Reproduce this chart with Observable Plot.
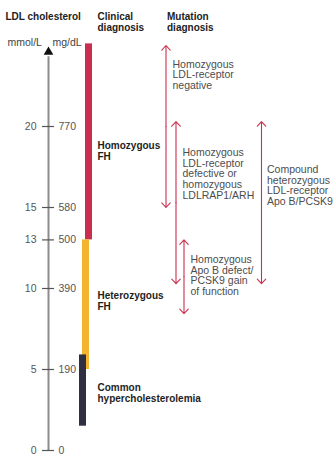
<!DOCTYPE html>
<html><head><meta charset="utf-8">
<script src="https://cdn.jsdelivr.net/npm/d3@7"></script>
<script src="https://cdn.jsdelivr.net/npm/@observablehq/plot@0.6"></script>
<style>
html,body{margin:0;padding:0;background:#fff;}
#chart svg{display:block;}
</style></head><body><div id="chart"></div>
<script>
// ---- data ----
const tickMmol = [0, 5, 10, 13, 15, 20];
const tickMgdl = ["0", "190", "390", "500", "580", "770"];
const axisTop = 24.6;

const clinicalNames = ["Homozygous\nFH", "Heterozygous\nFH", "Common\nhypercholesterolemia"];
const clinicalLow = [13, 5, 1.5];
const clinicalHigh = [25.1, 13, 5.9];

const mutationNames = [
  "Homozygous\nLDL-receptor\nnegative",
  "Homozygous\nLDL-receptor\ndefective or\nhomozygous\nLDLRAP1/ARH",
  "Homozygous\nApo B defect/\nPCSK9 gain\nof function",
  "Compound\nheterozygous\nLDL-receptor\nApo B/PCSK9"
];
const mutationLow = [15, 10.3, 8.45, 10.3];
const mutationHigh = [25, 20.3, 13, 20.3];

const headers = ["LDL cholesterol", "Clinical\ndiagnosis", "Mutation\ndiagnosis"];
const unitLabels = ["mmol/L", "mg/dL"];

// ---- layout (positions / styles) ----
const W = 336, H = 473;
const axisX = 48;
const barX = [88.5, 85.5, 82.5];
const barW = 7;
const clinicalLabelY = [18.46, 9.26, 3.56];
const clinicalLabelX = 97;
const arrowX = [165.5, 175.5, 183.5, 261];
const mutLabelX = [172, 182, 190, 266.5];
const mutLabelY = [23.18, 17.08, 10.79, 16.36];
const headerX = [5, 97, 166.5];
const unitX = [7, 52];
const barColors = ["#c92d50", "#f5b42f", "#302f42"];
const arrowColor = "#c8304f";
const font = "'Liberation Sans', Arial, sans-serif";

const clinical = clinicalNames.map((name, i) => ({name, low: clinicalLow[i], high: clinicalHigh[i], x: barX[i], color: barColors[i], ly: clinicalLabelY[i]}));
const mutation = mutationNames.map((name, i) => ({name, low: mutationLow[i], high: mutationHigh[i], mid: (mutationLow[i] + mutationHigh[i]) / 2, x: arrowX[i], lx: mutLabelX[i], ly: mutLabelY[i]}));
const ticks = tickMmol.map((v, i) => ({v, mg: tickMgdl[i]}));

const chart = Plot.plot({
  width: W,
  height: H,
  marginTop: 45,
  marginBottom: 23,
  marginLeft: 0,
  marginRight: 0,
  style: {fontFamily: font, background: "#fff"},
  x: {domain: [0, W], range: [0, W], axis: null},
  y: {domain: [0, 25], axis: null},
  marks: [
    // headers
    Plot.text(headers, {x: (d, i) => headerX[i], text: d => d, frameAnchor: "top", dy: -33, lineAnchor: "top", textAnchor: "start", fontWeight: "bold", fontSize: 10, fill: "#222", lineHeight: 1.1}),
    Plot.text(unitLabels, {x: (d, i) => unitX[i], text: d => d, frameAnchor: "top", dy: -3, lineAnchor: "middle", textAnchor: "start", fontSize: 10.5, fill: "#444"}),
    // axis
    Plot.ruleX([axisX], {x: d => d, y1: 0, y2: axisTop - 0.3, stroke: "#8c8c8c", strokeWidth: 2}),
    Plot.dot([axisTop], {x: axisX, y: d => d, symbol: "triangle", r: 3.6, fill: "#111", stroke: "none"}),
    Plot.ruleY(ticks, {y: "v", x1: axisX - 6, x2: axisX + 6, stroke: "#555", strokeWidth: 1.2}),
    Plot.text(ticks, {y: "v", x: axisX - 12, text: d => String(d.v), textAnchor: "end", fontSize: 10.5, fill: "#555"}),
    Plot.text(ticks, {y: "v", x: axisX + 10, text: "mg", textAnchor: "start", fontSize: 10.5, fill: "#555"}),
    // clinical bars
    Plot.rect(clinical, {x1: d => d.x - barW / 2, x2: d => d.x + barW / 2, y1: "low", y2: "high", fill: "color"}),
    Plot.text(clinical, {x: clinicalLabelX, y: "ly", text: "name", textAnchor: "start", fontWeight: "bold", fontSize: 10, fill: "#1e1e1e", lineHeight: 1.1}),
    // mutation arrows (double headed)
    Plot.arrow(mutation, {x1: "x", x2: "x", y1: "mid", y2: "high", stroke: arrowColor, strokeWidth: 1.1, headLength: 8.5, headAngle: 85}),
    Plot.arrow(mutation, {x1: "x", x2: "x", y1: "mid", y2: "low", stroke: arrowColor, strokeWidth: 1.1, headLength: 8.5, headAngle: 85}),
    Plot.text(mutation, {x: "lx", y: "ly", text: "name", textAnchor: "start", fontSize: 10.5, fill: "#4d4d4d", lineHeight: 1.02})
  ]
});
document.getElementById("chart").appendChild(chart);
</script>
</body></html>
